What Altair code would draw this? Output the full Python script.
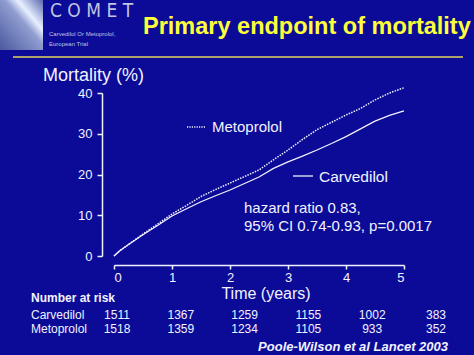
import altair as alt
import pandas as pd

# ---- data ----
time_pts = [0, 0.1, 0.25, 0.5, 0.75, 1.0, 1.25, 1.5, 1.75, 2.0, 2.25, 2.5,
            2.75, 3.0, 3.25, 3.5, 3.75, 4.0, 4.25, 4.5, 4.75, 5.0]
metoprolol = [0, 1.3, 2.8, 5.4, 7.8, 10.3, 12.4, 14.6, 16.3, 17.9, 19.5, 21.1,
              23.6, 26.0, 28.6, 31.0, 32.8, 34.6, 36.2, 38.3, 40.0, 41.3]
carvedilol = [0, 1.3, 2.8, 5.2, 7.5, 9.8, 11.6, 13.3, 14.8, 16.2, 17.8, 19.4,
              21.5, 23.1, 24.5, 26.0, 27.6, 29.3, 31.2, 33.1, 34.5, 35.6]

risk_cols = [0, 1, 2, 3, 4, 5]
risk_carvedilol = [1511, 1367, 1259, 1155, 1002, 383]
risk_metoprolol = [1518, 1359, 1234, 1105, 933, 352]

y_ticks = [0, 10, 20, 30, 40]
x_ticks = [0, 1, 2, 3, 4, 5]

BG = "#0b0b98"
FG = "#f2f2ff"
FONT = "Liberation Sans"
YELLOW = "#ffff3a"

met_df = pd.DataFrame({"t": time_pts, "v": metoprolol})
car_df = pd.DataFrame({"t": time_pts, "v": carvedilol})
risk_c = pd.DataFrame({"col": risk_cols, "n": [str(v) for v in risk_carvedilol]})
risk_m = pd.DataFrame({"col": risk_cols, "n": [str(v) for v in risk_metoprolol]})

xs = alt.Scale(domain=[0, 5], nice=False, zero=False)
ys = alt.Scale(domain=[0, 40], nice=False)

x_axis = alt.Axis(values=x_ticks, format="d", title=None, grid=False, offset=9,
                  domainColor=FG, tickColor=FG, labelColor=FG, tickSize=4,
                  labelPadding=2, labelFont=FONT, labelFontSize=13, domainWidth=1.5,
                  tickWidth=1.5)
y_axis = alt.Axis(values=y_ticks, title=None, grid=False, offset=12,
                  domainColor=FG, tickColor=FG, labelColor=FG, tickSize=5,
                  labelPadding=5, labelFont=FONT, labelFontSize=13, domainWidth=1.5,
                  tickWidth=1.5)

met_line = alt.Chart(met_df).mark_line(color=FG, strokeWidth=1.5, strokeDash=[1.5, 1.2]).encode(
    x=alt.X("t:Q", scale=xs, axis=x_axis),
    y=alt.Y("v:Q", scale=ys, axis=y_axis),
)
car_line = alt.Chart(car_df).mark_line(color=FG, strokeWidth=1.2).encode(
    x=alt.X("t:Q", scale=xs),
    y=alt.Y("v:Q", scale=ys),
)

curves = alt.layer(met_line, car_line)

# number-at-risk table (own x scale)
risk_scale = alt.Scale(domain=[0, 5], range=[3, 322])
risk_c_txt = alt.Chart(risk_c).mark_text(font=FONT, fontSize=12, color=FG, baseline="middle").encode(
    x=alt.X("col:Q", scale=risk_scale, axis=None), y=alt.value(222), text="n:N")
risk_m_txt = alt.Chart(risk_m).mark_text(font=FONT, fontSize=12, color=FG, baseline="middle").encode(
    x=alt.X("col:Q", scale=risk_scale, axis=None), y=alt.value(236), text="n:N")
risk = alt.layer(risk_c_txt, risk_m_txt)


def label(txt, x, y, size, align="left", weight="normal", style="normal", color=FG,
          font=FONT, baseline="middle"):
    return alt.Chart(pd.DataFrame({"s": [txt]})).mark_text(
        font=font, fontSize=size, fontWeight=weight, fontStyle=style, color=color,
        align=align, baseline=baseline).encode(x=alt.value(x), y=alt.value(y), text="s:N")


def rule(x1, x2, y, color=FG, width=1.5, dash=None):
    kw = dict(color=color, strokeWidth=width)
    if dash:
        kw["strokeDash"] = dash
    return alt.Chart(pd.DataFrame({"a": [0]})).mark_rule(**kw).encode(
        x=alt.value(x1), x2=alt.value(x2), y=alt.value(y))


logo = alt.Chart(pd.DataFrame({"a": [0]})).mark_rect(
    fill=alt.Gradient(gradient="linear", x1=0, y1=1, x2=1, y2=0,
                      stops=[alt.GradientStop(color="#4a58a0", offset=0),
                             alt.GradientStop(color="#8f9dd0", offset=0.55),
                             alt.GradientStop(color="#e8f0ff", offset=0.7),
                             alt.GradientStop(color="#5a68b0", offset=1)])
).encode(x=alt.value(-114), x2=alt.value(-71), y=alt.value(-93), y2=alt.value(-43))

annos = [
    logo,
    label("C O M E T", -64, -76, 19, color="#c0c4e0", font="DejaVu Sans Condensed",
          baseline="alphabetic"),
    label("Carvedilol Or Metoprolol,", -65, -59, 6, color="#c0c4e0"),
    label("European Trial", -65, -49, 6, color="#c0c4e0"),
    label("Primary endpoint of mortality", 29, -66, 23.5, weight="bold", color=YELLOW),
    rule(-101, 349, -36, color="#e6d35a", width=1.5),
    label("Mortality (%)", -71, -17, 18),
    rule(73, 92, 34, width=1.3, dash=[1.2, 1.2]),
    label("Metoprolol", 98, 34, 15),
    rule(179, 199, 83, width=1.3),
    label("Carvedilol", 205, 84, 15.5),
    label("hazard ratio 0.83,", 130, 115, 15),
    label("95% CI 0.74-0.93, p=0.0017", 130, 133, 15),
    label("Time (years)", 152, 201, 16, align="center"),
    label("Number at risk", -83, 205, 12, weight="bold"),
    label("Carvedilol", -83, 222, 12),
    label("Metoprolol", -83, 236, 12),
    label("Poole-Wilson et al Lancet  2003", 334, 254, 13, align="right", weight="bold", style="italic"),
]

chart = alt.layer(curves, risk, *annos).resolve_scale(x="independent").properties(
    width=290, height=163,
    padding={"left": 114, "top": 93, "right": 70, "bottom": 99},
    autosize=alt.AutoSizeParams(type="none"),
).configure(background=BG).configure_view(stroke=None)

chart.save("out.html", embed_options={"renderer": "svg", "actions": False})
